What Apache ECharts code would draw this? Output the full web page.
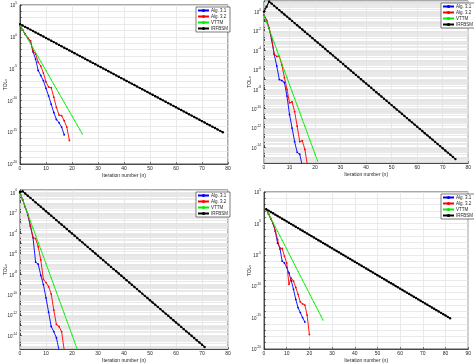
<!DOCTYPE html>
<html>
<head>
<meta charset="utf-8">
<script src="https://cdn.jsdelivr.net/npm/echarts@6/dist/echarts.min.js"></script>
<style>
  html, body { margin: 0; padding: 0; background: #fff; }
  #chart { width: 474px; height: 364px; }
</style>
</head>
<body>
<div id="chart"></div>
<script>
// values are log10(TOL_n); index = iteration number n (from the start value)
var names = ['Alg. 3.1', 'Alg. 3.2', 'VTTM', 'IRFBSM'];
var colors = ['#0000ff', '#ff0000', '#00ee00', '#000000'];

// top left (n from 0)
var tlBlue = [1.8, 1.1, 0.4, -0.2, -0.63, -2.36, -3.5, -5.3, -6.1, -6.9, -8.1, -9.3, -10.6, -11.9, -13.0, -13.5, -14.2, -15.4];
var tlRed = [1.8, 1.1, 0.4, -0.2, -0.63, -2.2, -2.7, -4.0, -4.6, -5.7, -7.1, -7.9, -8.0, -9.5, -11.1, -12.3, -12.4, -13.2, -14.2, -16.3];
var tlGreen = [1.80, 1.09, 0.38, -0.34, -1.05, -1.76, -2.48, -3.19, -3.90, -4.61, -5.33, -6.04, -6.75, -7.46, -8.18, -8.89, -9.60, -10.31, -11.03, -11.74, -12.45, -13.16, -13.88, -14.59, -15.30];
var tlBlack = [2.00, 1.78, 1.56, 1.35, 1.13, 0.91, 0.69, 0.47, 0.26, 0.04, -0.18, -0.40, -0.62, -0.83, -1.05, -1.27, -1.49, -1.71, -1.92, -2.14,
  -2.36, -2.58, -2.80, -3.01, -3.23, -3.45, -3.67, -3.89, -4.10, -4.32, -4.54, -4.76, -4.98, -5.19, -5.41, -5.63, -5.85, -6.07, -6.28, -6.50,
  -6.72, -6.94, -7.16, -7.37, -7.59, -7.81, -8.03, -8.25, -8.46, -8.68, -8.90, -9.12, -9.34, -9.55, -9.77, -9.99, -10.21, -10.43, -10.64, -10.86,
  -11.08, -11.30, -11.52, -11.73, -11.95, -12.17, -12.39, -12.61, -12.82, -13.04, -13.26, -13.48, -13.70, -13.91, -14.13, -14.35, -14.57, -14.79, -15.00];

// top right (n from 0)
var trBlue = [-0.35, -0.9, -1.7, -2.9, -4.4, -5.6, -7.0, -7.1, -7.3, -8.7, -10.6, -12.0, -13.4, -14.5, -14.7, -15.9];
var trRed = [-0.35, -0.9, -1.7, -2.8, -4.4, -4.6, -4.6, -5.5, -6.8, -8.0, -9.4, -9.3, -10.3, -11.8, -13.4, -13.3, -14.2, -15.8];
var trGreen = [-0.35, -1.07, -1.78, -2.50, -3.22, -3.93, -4.65, -5.37, -6.08, -6.80, -7.52, -8.23, -8.95, -9.67, -10.38, -11.10, -11.82, -12.53, -13.25, -13.97, -14.68, -15.40];
var trBlack = [0.0, 0.5, 1.05, 0.83, 0.60, 0.38, 0.16, -0.06, -0.29, -0.51, -0.73, -0.95, -1.18, -1.40, -1.62, -1.84, -2.07, -2.29, -2.51, -2.73,
  -2.96, -3.18, -3.40, -3.62, -3.85, -4.07, -4.29, -4.51, -4.74, -4.96, -5.18, -5.40, -5.63, -5.85, -6.07, -6.30, -6.52, -6.74, -6.96, -7.19,
  -7.41, -7.63, -7.85, -8.08, -8.30, -8.52, -8.74, -8.97, -9.19, -9.41, -9.63, -9.86, -10.08, -10.30, -10.52, -10.75, -10.97, -11.19, -11.41, -11.64,
  -11.86, -12.08, -12.30, -12.53, -12.75, -12.97, -13.19, -13.42, -13.64, -13.86, -14.08, -14.31, -14.53, -14.75, -14.97, -15.20];

// bottom left (n from 0)
var blBlue = [0.0, -0.7, -1.4, -2.2, -3.3, -4.4, -6.8, -7.0, -8.1, -9.0, -10.3, -11.7, -13.1, -13.6, -14.2, -15.4];
var blRed = [0.0, -0.7, -1.4, -2.1, -3.2, -4.4, -4.5, -5.3, -6.6, -8.5, -8.8, -9.2, -9.9, -11.5, -12.9, -13.1, -13.6, -15.4];
var blGreen = [0.00, -0.70, -1.39, -2.09, -2.78, -3.48, -4.17, -4.87, -5.56, -6.26, -6.96, -7.65, -8.35, -9.04, -9.74, -10.43, -11.13, -11.82, -12.52, -13.21, -13.91, -14.61, -15.30];
var blBlack = [0.05, 0.13, -0.09, -0.31, -0.52, -0.74, -0.96, -1.18, -1.39, -1.61, -1.83, -2.05, -2.26, -2.48, -2.70, -2.92, -3.13, -3.35, -3.57, -3.79,
  -4.00, -4.22, -4.44, -4.66, -4.87, -5.09, -5.31, -5.53, -5.74, -5.96, -6.18, -6.40, -6.61, -6.83, -7.05, -7.27, -7.49, -7.70, -7.92, -8.14,
  -8.36, -8.57, -8.79, -9.01, -9.23, -9.44, -9.66, -9.88, -10.10, -10.31, -10.53, -10.75, -10.97, -11.18, -11.40, -11.62, -11.84, -12.05, -12.27, -12.49,
  -12.71, -12.92, -13.14, -13.36, -13.58, -13.79, -14.01, -14.23, -14.45, -14.66, -14.88, -15.10];

// bottom right (n from 1)
var brBlue = [2.25, 1.5, 0.75, 0.0, -1.3, -3.15, -3.9, -6.0, -6.3, -7.0, -7.9, -9.1, -10.5, -12.1, -13.4, -14.2, -15.0, -15.7];
var brRed = [2.25, 1.5, 0.75, 0.0, -1.2, -2.6, -4.1, -4.0, -5.2, -6.3, -9.7, -8.7, -9.2, -10.2, -11.3, -12.5, -12.8, -13.0, -14.6, -17.7];
var brGreen = [2.25, 1.54, 0.84, 0.13, -0.57, -1.28, -1.99, -2.69, -3.40, -4.10, -4.81, -5.51, -6.22, -6.93, -7.63, -8.34, -9.04, -9.75, -10.45, -11.16, -11.87, -12.57, -13.28, -13.98, -14.69, -15.40];
var brBlack = [2.25, 2.04, 1.82, 1.61, 1.39, 1.18, 0.96, 0.75, 0.54, 0.32, 0.11, -0.11, -0.32, -0.53, -0.75, -0.96, -1.18, -1.39, -1.61, -1.82,
  -2.03, -2.25, -2.46, -2.68, -2.89, -3.11, -3.32, -3.53, -3.75, -3.96, -4.18, -4.39, -4.60, -4.82, -5.03, -5.25, -5.46, -5.68, -5.89, -6.10,
  -6.32, -6.53, -6.75, -6.96, -7.17, -7.39, -7.60, -7.82, -8.03, -8.25, -8.46, -8.67, -8.89, -9.10, -9.32, -9.53, -9.74, -9.96, -10.17, -10.39,
  -10.60, -10.82, -11.03, -11.24, -11.46, -11.67, -11.89, -12.10, -12.31, -12.53, -12.74, -12.96, -13.17, -13.39, -13.60, -13.81, -14.03, -14.24, -14.46, -14.67,
  -14.88, -15.10];

var panels = [
  {grid: {left: 20, top: 5, width: 208, height: 159}, xMax: 80, yMin: -20, yMax: 5, step: 5, minor: false, start: 0,
   legend: {left: 196, top: 7}, data: [tlBlue, tlRed, tlGreen, tlBlack]},
  {grid: {left: 264, top: 1, width: 208, height: 162}, xMax: 80, yMin: -15.6, yMax: 1.1, step: 2, minor: true, start: 0,
   legend: {left: 441, top: 3}, data: [trBlue, trRed, trGreen, trBlack]},
  {grid: {left: 20, top: 190, width: 208, height: 159}, xMax: 80, yMin: -15.3, yMax: 0.25, step: 2, minor: true, start: 0,
   legend: {left: 196, top: 192}, data: [blBlue, blRed, blGreen, blBlack]},
  {grid: {left: 264, top: 192, width: 208, height: 159}, xMax: 90, yMin: -20, yMax: 5, step: 5, minor: false, start: 1,
   legend: {left: 441, top: 194}, data: [brBlue, brRed, brGreen, brBlack]}
];

var font = 'Liberation Sans, Arial, sans-serif';
var ink = '#262626';

function pts(arr, start) {
  return arr.map(function (v, i) { return [start + i, v]; });
}

// log minor grid (2..9 per decade)
function minorLines(min, max) {
  var out = [];
  for (var k = Math.floor(min); k < Math.ceil(max); k++) {
    for (var m = 2; m <= 9; m++) {
      var y = k + Math.log10(m);
      if (y > min && y < max) out.push({yAxis: y});
    }
  }
  return out;
}

var option = {
  backgroundColor: '#fff',
  animation: false,
  grid: [], xAxis: [], yAxis: [], legend: [], series: []
};

panels.forEach(function (p, gi) {
  option.grid.push(Object.assign({show: true, borderColor: ink, borderWidth: 0.8, backgroundColor: '#fff'}, p.grid));
  option.xAxis.push({
    type: 'value', gridIndex: gi, min: 0, max: p.xMax, interval: 10,
    name: 'Iteration number (n)', nameLocation: 'middle', nameGap: 9,
    nameTextStyle: {fontSize: 5, color: ink, fontFamily: font},
    axisLine: {onZero: false, lineStyle: {color: ink, width: 0.8}},
    axisTick: {inside: true, length: 2, lineStyle: {color: ink, width: 0.6}},
    axisLabel: {fontSize: 5, color: ink, margin: 2.5, fontFamily: font},
    splitLine: {lineStyle: {color: '#e4e4e4', width: 0.8}}
  });
  var y = {
    type: 'value', gridIndex: gi, min: p.yMin, max: p.yMax,
    name: '{a|TOL}{s|n}', nameLocation: 'middle', nameGap: 12, nameRotate: 90, nameMoveOverlap: false,
    nameTextStyle: {fontFamily: font, color: ink, rich: {a: {fontSize: 5, color: ink}, s: {fontSize: 3.5, color: ink, verticalAlign: 'bottom'}}},
    axisLine: {onZero: false, lineStyle: {color: ink, width: 0.8}},
    axisTick: {inside: true, length: 2, lineStyle: {color: ink, width: 0.6}},
    axisLabel: {
      margin: 3, showMinLabel: p.step === 5, showMaxLabel: p.step === 5,
      formatter: (function (step) {
        return function (v) {
          var r = Math.round(v);
          if (Math.abs(v - r) > 1e-6 || r % step !== 0) return '';
          return '{b|10}{s|' + r + '}';
        };
      })(p.step),
      rich: {
        b: {fontSize: 4.5, color: ink, fontFamily: font, lineHeight: 7, verticalAlign: 'bottom'},
        s: {fontSize: 3.2, color: ink, fontFamily: font, verticalAlign: 'top'}
      }
    },
    splitLine: {lineStyle: {color: '#e4e4e4', width: 0.8}}
  };
  if (p.step === 5) y.interval = 1; else y.splitNumber = Math.round(p.yMax - p.yMin);
  option.yAxis.push(y);

  option.legend.push({
    data: names, orient: 'vertical', left: p.legend.left, top: p.legend.top,
    backgroundColor: '#fff', borderColor: ink, borderWidth: 0.6, padding: [1, 2, 1, 1],
    itemWidth: 11, itemHeight: 4, itemGap: 1,
    textStyle: {fontSize: 4.5, color: ink, fontFamily: font, padding: [0, 0, 0, -3]},
    selectedMode: false
  });

  p.data.forEach(function (arr, si) {
    var s = {
      name: names[si], type: 'line', xAxisIndex: gi, yAxisIndex: gi,
      data: pts(arr, p.start),
      color: colors[si],
      lineStyle: {width: si === 3 ? 1.1 : 0.9, color: colors[si]},
      symbol: 'circle',
      symbolSize: si === 3 ? 2.4 : (si === 2 ? 1.2 : 1.8),
      itemStyle: {color: colors[si]},
      z: 3 + si, clip: true
    };
    if (si === 2 && p.minor) {
      s.markLine = {
        silent: true, symbol: ['none', 'none'], label: {show: false}, z: 1, animation: false,
        lineStyle: {color: '#e3e3e3', type: 'solid', width: 0.8},
        data: minorLines(p.yMin, p.yMax)
      };
    }
    option.series.push(s);
  });
});

var myChart = echarts.init(document.getElementById('chart'), null, {renderer: 'canvas'});
myChart.setOption(option);
</script>
</body>
</html>
